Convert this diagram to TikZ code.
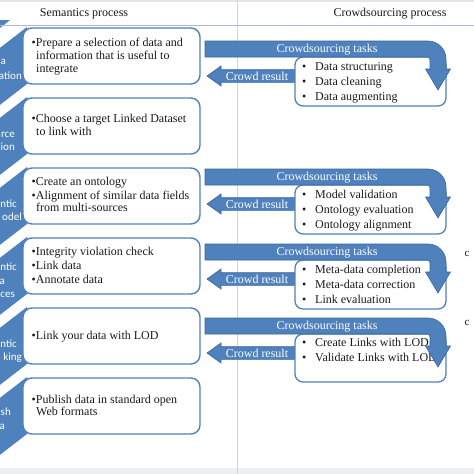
\documentclass[tikz,border=0pt]{standalone}
\usepackage{fontspec}
\setmainfont{Liberation Serif}
\newfontfamily\calib{Carlito}
\definecolor{acc}{HTML}{4F81BD}
\definecolor{accd}{HTML}{3A679B}
\definecolor{hline}{HTML}{A7BBD3}
\definecolor{vline}{HTML}{D4D4D4}
\definecolor{botbar}{HTML}{ECEEF1}
\definecolor{ink}{HTML}{1A1A1A}
\tikzset{
 lbox/.style={draw=acc, line width=1.4pt, fill=white, rounded corners=9pt, minimum width=177pt, minimum height=56pt, inner sep=0pt},
 tbox/.style={draw=acc, line width=1.3pt, fill=white, rounded corners=8pt, minimum width=151pt, minimum height=49pt, inner sep=0pt},
 ltxt/.style={font=\fontsize{12}{13}\selectfont, inner sep=0pt, anchor=mid west, text=ink},
 wtxt/.style={font=\fontsize{12}{13}\selectfont, inner sep=0pt, text=white},
 ctxt/.style={font=\calib\fontsize{11}{12}\selectfont, inner sep=0pt, anchor=mid east, text=white},
 bent/.style={fill=acc, draw=accd, line width=0.6pt},
}
\newcommand\chevshape[1]{%
 \fill[acc] (27,#1-1) -- (27,#1+56) -- (-8,#1+56+27) -- (-8,#1-1+27) -- cycle;}
\newcommand\bandshape[1]{%
 \draw[bent] (205,#1) -- (428,#1) arc[start angle=-90, end angle=0, radius=18]
   -- (446,#1+28) -- (450.5,#1+28) -- (438,#1+49) -- (425.5,#1+28) -- (430,#1+28)
   -- (430,#1+19) arc[start angle=0, end angle=-90, radius=3] -- (205,#1+16) -- cycle;}
\newcommand\resultshape[1]{%
 \draw[bent] (297,#1-6.3) -- (221,#1-6.3) -- (221,#1-10) -- (207,#1) -- (221,#1+10)
   -- (221,#1+6.3) -- (297,#1+6.3) -- cycle;}
\begin{document}
\begin{tikzpicture}[x=1pt,y=-1pt]
\clip (0,0) rectangle (474,474);
\fill[white] (0,0) rectangle (474,474);
% frame lines
\fill[botbar] (0,468) rectangle (474,474);
\fill[vline!60] (0,0) rectangle (474,1.5);
\draw[vline, line width=0.8pt] (237,0) -- (237,474);
\fill[acc] (0,20) -- (10,20) -- (0,28) -- cycle;
\draw[hline, line width=1pt] (0,25) -- (474,25);
\node[font=\fontsize{12}{13}\selectfont, text=ink, inner sep=0pt] (h1) at (84,14) {Semantics process};
\node[font=\fontsize{12}{13}\selectfont, text=ink, inner sep=0pt] (h2) at (390,14) {Crowdsourcing process};
% chevrons
\chevshape{28}\chevshape{98}\chevshape{168}\chevshape{238}\chevshape{308}\chevshape{378}
\node[ctxt] (c1a) at (6,62) {a};
\node[ctxt] (c1b) at (22,77) {ation};
\node[ctxt] (c2a) at (15,135) {rce};
\node[ctxt] (c2b) at (15,148) {ion};
\node[ctxt] (c3a) at (17,205) {ntic};
\node[ctxt] (c3b) at (22,218) {odel};
\node[ctxt] (c4a) at (17,268) {ntic};
\node[ctxt] (c4b) at (5,282) {a};
\node[ctxt] (c4c) at (15,295) {ces};
\node[ctxt] (c5a) at (17,345) {ntic};
\node[ctxt] (c5b) at (22,358) {king};
\node[ctxt] (c6a) at (11,413) {sh};
\node[ctxt] (c6b) at (5,427) {a};
% left boxes
\node[lbox] (s1) at (111.5,56) {};
\node[lbox] (s2) at (111.5,126) {};
\node[lbox] (s3) at (111.5,196) {};
\node[lbox] (s4) at (111.5,266) {};
\node[lbox] (s5) at (111.5,336) {};
\node[lbox] (s6) at (111.5,406) {};
\node[ltxt] (s1a) at (31.5,44) {•Prepare a selection of data and};
\node[ltxt] (s1b) at (36,57) {information that is useful to};
\node[ltxt] (s1c) at (36,70) {integrate};
\node[ltxt] (s2a) at (31.5,120) {•Choose a target Linked Dataset};
\node[ltxt] (s2b) at (36,133) {to link with};
\node[ltxt] (s3a) at (31.5,183) {•Create an ontology};
\node[ltxt] (s3b) at (31.5,197) {•Alignment of similar data fields};
\node[ltxt] (s3c) at (36,209) {from multi-sources};
\node[ltxt] (s4a) at (31.5,253) {•Integrity violation check};
\node[ltxt] (s4b) at (31.5,267) {•Link data};
\node[ltxt] (s4c) at (31.5,281) {•Annotate data};
\node[ltxt] (s5a) at (31.5,337) {•Link your data with LOD};
\node[ltxt] (s6a) at (31.5,401) {•Publish data in standard open};
\node[ltxt] (s6b) at (36,413) {Web formats};
% crowd row 1 (Y=41)
\resultshape{76}
\node[wtxt] (r1) at (257,76) {Crowd result};
\node[tbox] (t1) at (370.5,81.5) {};
\node[ltxt] (t1b1) at (302,68) {•}; \node[ltxt] (t1a) at (315,68) {Data structuring};
\node[ltxt] (t1b2) at (302,83) {•}; \node[ltxt] (t1b) at (315,83) {Data cleaning};
\node[ltxt] (t1b3) at (302,98) {•}; \node[ltxt] (t1c) at (315,98) {Data augmenting};
\bandshape{41}
\node[wtxt] (k1) at (327,49.5) {Crowdsourcing tasks};
% crowd row 3 (Y=169)
\resultshape{204}
\node[wtxt] (r3) at (257,204) {Crowd result};
\node[tbox] (t3) at (370.5,209.5) {};
\node[ltxt] (t3b1) at (302,196) {•}; \node[ltxt] (t3a) at (315,196) {Model validation};
\node[ltxt] (t3b2) at (302,211) {•}; \node[ltxt] (t3b) at (315,211) {Ontology evaluation};
\node[ltxt] (t3b3) at (302,226) {•}; \node[ltxt] (t3c) at (315,226) {Ontology alignment};
\bandshape{169}
\node[wtxt] (k3) at (327,177.5) {Crowdsourcing tasks};
% crowd row 4 (Y=244)
\resultshape{279}
\node[wtxt] (r4) at (257,279) {Crowd result};
\node[tbox] (t4) at (370.5,284.5) {};
\node[ltxt] (t4b1) at (302,271) {•}; \node[ltxt] (t4a) at (315,271) {Meta-data completion};
\node[ltxt] (t4b2) at (302,286) {•}; \node[ltxt] (t4b) at (315,286) {Meta-data correction};
\node[ltxt] (t4b3) at (302,301) {•}; \node[ltxt] (t4c) at (315,301) {Link evaluation};
\bandshape{244}
\node[wtxt] (k4) at (327,252.5) {Crowdsourcing tasks};
% crowd row 5 (Y=318)
\resultshape{353}
\node[wtxt] (r5) at (257,353) {Crowd result};
\node[tbox, minimum height=48pt] (t5) at (370.5,358) {};
\node[ltxt] (t5b1) at (302,344) {•}; \node[ltxt] (t5a) at (315,344) {Create Links with LOD};
\node[ltxt] (t5b2) at (302,359) {•}; \node[ltxt] (t5b) at (315,359) {Validate Links with LOD};
\bandshape{318}
\node[wtxt] (k5) at (327,326.5) {Crowdsourcing tasks};
% cut-off fragments at right edge
\node[font=\fontsize{11}{12}\selectfont, text=ink, inner sep=0pt] (f1) at (467,254) {c};
\node[font=\fontsize{11}{12}\selectfont, text=ink, inner sep=0pt] (f2) at (467,323) {c};
\end{tikzpicture}
\end{document}
